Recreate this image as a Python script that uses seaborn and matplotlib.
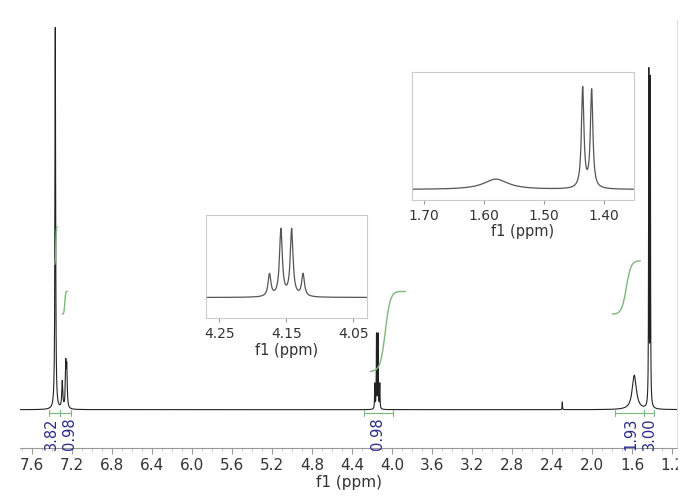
import numpy as np
import pandas as pd
import matplotlib
matplotlib.use("Agg")
import matplotlib.pyplot as plt
import seaborn as sns

# peak list (ppm, relative height, half width ppm)
peak_ppm = [7.37, 7.30, 7.265, 7.255, 4.175, 4.158, 4.142, 4.125, 2.30, 1.58, 1.435, 1.420]
peak_h = [1.00, 0.07, 0.11, 0.10, 0.065, 0.195, 0.195, 0.065, 0.02, 0.09, 0.87, 0.85]
peak_w = [0.004, 0.006, 0.005, 0.005, 0.0025, 0.0025, 0.0025, 0.0025, 0.002, 0.025, 0.0025, 0.0025]
integral_ppm = [7.41, 7.23, 4.15, 1.61, 1.43]
integral_lbl = ["3.82", "0.98", "0.98", "1.93", "3.00"]
integral_lo = [7.43, 7.32, 4.28, 1.77, 1.48]
integral_hi = [7.32, 7.21, 3.99, 1.48, 1.38]
main_ticks = [7.6, 7.2, 6.8, 6.4, 6.0, 5.6, 5.2, 4.8, 4.4, 4.0, 3.6, 3.2, 2.8, 2.4, 2.0, 1.6, 1.2]

x = np.linspace(7.75, 1.1, 40000)
y = np.zeros_like(x)
for p, h, w in zip(peak_ppm, peak_h, peak_w):
    y += h / (1 + ((x - p) / w) ** 2)
df = pd.DataFrame({"ppm": x, "I": y})

sns.set_style("white")
plt.rcParams['font.family'] = ['DejaVu Sans']
fig = plt.figure(figsize=(7, 5.01), dpi=100)
ax = fig.add_axes([0.029, 0.106, 0.9386, 0.854])
sns.lineplot(data=df, x="ppm", y="I", ax=ax, color="#222222", lw=0.8)
ax.set_xlim(7.72, 1.15)
ax.set_ylim(-0.1, 1.02)
for s in ["top", "left"]:
    ax.spines[s].set_visible(False)
ax.spines["right"].set_color("#dddddd")
ax.spines["bottom"].set_color("#999999")
ax.set_yticks([])
ax.set_xticks(main_ticks)
ax.set_xticklabels([f"{t:.1f}" for t in main_ticks], fontsize=11, color="#333333")
ax.set_xticks(np.arange(1.2, 7.75, 0.1), minor=True)
ax.tick_params(axis="x", which="major", length=4, color="#999999", bottom=True)
ax.tick_params(axis="x", which="minor", length=2, color="#bbbbbb", bottom=True)
ax.set_xlabel("f1 (ppm)", fontsize=11, color="#333333", labelpad=1)
ax.set_ylabel("")
green = "#7cb87c"
for c, l, lo, hi in zip(integral_ppm, integral_lbl, integral_lo, integral_hi):
    ax.plot([lo, hi], [-0.008, -0.008], color=green, lw=0.8)
    ax.plot([lo, lo], [-0.016, 0.0], color=green, lw=0.8)
    ax.plot([hi, hi], [-0.016, 0.0], color=green, lw=0.8)
    ax.text(c, -0.02, l, rotation=90, ha="center", va="top", fontsize=10.5, color="#2a2a8a")
def scurve(x0, x1, y0, y1):
    t = np.linspace(0, 1, 100)
    xs = x0 + (x1 - x0) * t
    ys = y0 + (y1 - y0) / (1 + np.exp(-(t - 0.5) * 12))
    ax.plot(xs, ys, color=green, lw=1)
scurve(7.38, 7.35, 0.38, 0.48)
scurve(7.30, 7.25, 0.25, 0.31)
scurve(4.22, 3.92, 0.10, 0.31)
ax.plot([3.92, 3.87], [0.31, 0.31], color=green, lw=1)
scurve(1.80, 1.52, 0.25, 0.39)

def inset(rect, lo, hi, ticks, ylim):
    a = fig.add_axes(rect)
    m = (x <= lo) & (x >= hi)
    sns.lineplot(data=df[m], x="ppm", y="I", ax=a, color="#555555", lw=0.9)
    a.set_xlim(lo, hi)
    a.set_ylim(*ylim)
    a.set_yticks([])
    a.set_xticks(ticks)
    a.set_xticklabels([f"{t:.2f}" for t in ticks], fontsize=10, color="#333333")
    a.tick_params(axis="x", length=3, color="#999999", bottom=True)
    for s in a.spines.values():
        s.set_color("#cccccc")
    a.set_xlabel("f1 (ppm)", fontsize=10.5, color="#333333", labelpad=1)
    a.set_ylabel("")

inset([0.294, 0.365, 0.23, 0.206], 4.27, 4.03, [4.25, 4.15, 4.05], (-0.06, 0.24))
inset([0.589, 0.601, 0.316, 0.255], 1.72, 1.35, [1.70, 1.60, 1.50, 1.40], (-0.09, 1.02))
fig.patches.append(plt.Rectangle((0.968, 0), 0.04, 0.11, transform=fig.transFigure,
                                 color="white", zorder=10))
fig.savefig("out.png", dpi=100)
